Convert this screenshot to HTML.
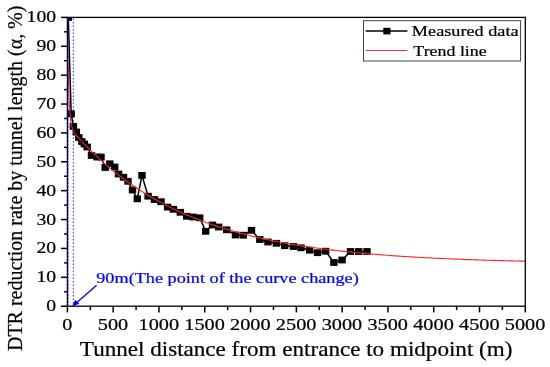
<!DOCTYPE html>
<html><head><meta charset="utf-8"><title>DTR reduction chart</title>
<style>
html,body{margin:0;padding:0;background:#fff;}
svg{display:block;}
text{font-family:'Liberation Serif','Times New Roman',serif;stroke-width:0.22px;paint-order:normal;}
</style></head><body>
<svg width="550" height="367" viewBox="0 0 550 367">
<rect width="550" height="367" fill="#fff"/>
<defs><clipPath id="pa"><rect x="67.4" y="17.4" width="457.9" height="288.8"/></clipPath></defs>
<line x1="73.3" y1="18.4" x2="73.3" y2="305.2" stroke="#33f" stroke-width="1" stroke-dasharray="1.7 1.8"/>
<g clip-path="url(#pa)">
<polyline points="68.3,17.4 71.2,113.8 73.4,126.4 76.3,132 78.8,137.5 81.8,141.5 84.3,144 87.2,147 91.5,155.5 97,157 101,157 105.2,167.5 109.8,163.8 114.7,167 118.5,174 123.5,177.3 128,181.3 132.5,190 137.3,198.8 142,175.4 148.1,196.2 154.5,199.5 161,201.7 167.6,207.1 173.4,209.3 180.3,212.3 186.7,216.3 193,217 199.7,217.8 205.7,231.3 212.5,225 218.7,227 226.7,229.8 235.5,235 243.3,235.2 251.5,230.3 259.8,239.5 268,242 276.4,243.3 284.7,245.7 293.5,246.5 301,247.8 309.7,250.2 317.6,252.7 325.6,251.2 333.9,262.5 342.1,260 350.5,251.5 358.7,251.5 367,251.5" fill="none" stroke="#000" stroke-width="1.5" stroke-linejoin="round"/>
<g fill="#000">
<rect x="64.60" y="14.00" width="7.4" height="6.8"/>
<rect x="67.50" y="110.40" width="7.4" height="6.8"/>
<rect x="69.70" y="123.00" width="7.4" height="6.8"/>
<rect x="72.60" y="128.60" width="7.4" height="6.8"/>
<rect x="75.10" y="134.10" width="7.4" height="6.8"/>
<rect x="78.10" y="138.10" width="7.4" height="6.8"/>
<rect x="80.60" y="140.60" width="7.4" height="6.8"/>
<rect x="83.50" y="143.60" width="7.4" height="6.8"/>
<rect x="87.80" y="152.10" width="7.4" height="6.8"/>
<rect x="93.30" y="153.60" width="7.4" height="6.8"/>
<rect x="97.30" y="153.60" width="7.4" height="6.8"/>
<rect x="101.50" y="164.10" width="7.4" height="6.8"/>
<rect x="106.10" y="160.40" width="7.4" height="6.8"/>
<rect x="111.00" y="163.60" width="7.4" height="6.8"/>
<rect x="114.80" y="170.60" width="7.4" height="6.8"/>
<rect x="119.80" y="173.90" width="7.4" height="6.8"/>
<rect x="124.30" y="177.90" width="7.4" height="6.8"/>
<rect x="128.80" y="186.60" width="7.4" height="6.8"/>
<rect x="133.60" y="195.40" width="7.4" height="6.8"/>
<rect x="138.30" y="172.00" width="7.4" height="6.8"/>
<rect x="144.40" y="192.80" width="7.4" height="6.8"/>
<rect x="150.80" y="196.10" width="7.4" height="6.8"/>
<rect x="157.30" y="198.30" width="7.4" height="6.8"/>
<rect x="163.90" y="203.70" width="7.4" height="6.8"/>
<rect x="169.70" y="205.90" width="7.4" height="6.8"/>
<rect x="176.60" y="208.90" width="7.4" height="6.8"/>
<rect x="183.00" y="212.90" width="7.4" height="6.8"/>
<rect x="189.30" y="213.60" width="7.4" height="6.8"/>
<rect x="196.00" y="214.40" width="7.4" height="6.8"/>
<rect x="202.00" y="227.90" width="7.4" height="6.8"/>
<rect x="208.80" y="221.60" width="7.4" height="6.8"/>
<rect x="215.00" y="223.60" width="7.4" height="6.8"/>
<rect x="223.00" y="226.40" width="7.4" height="6.8"/>
<rect x="231.80" y="231.60" width="7.4" height="6.8"/>
<rect x="239.60" y="231.80" width="7.4" height="6.8"/>
<rect x="247.80" y="226.90" width="7.4" height="6.8"/>
<rect x="256.10" y="236.10" width="7.4" height="6.8"/>
<rect x="264.30" y="238.60" width="7.4" height="6.8"/>
<rect x="272.70" y="239.90" width="7.4" height="6.8"/>
<rect x="281.00" y="242.30" width="7.4" height="6.8"/>
<rect x="289.80" y="243.10" width="7.4" height="6.8"/>
<rect x="297.30" y="244.40" width="7.4" height="6.8"/>
<rect x="306.00" y="246.80" width="7.4" height="6.8"/>
<rect x="313.90" y="249.30" width="7.4" height="6.8"/>
<rect x="321.90" y="247.80" width="7.4" height="6.8"/>
<rect x="330.20" y="259.10" width="7.4" height="6.8"/>
<rect x="338.40" y="256.60" width="7.4" height="6.8"/>
<rect x="346.80" y="248.10" width="7.4" height="6.8"/>
<rect x="355.00" y="248.10" width="7.4" height="6.8"/>
<rect x="363.30" y="248.10" width="7.4" height="6.8"/>
</g>
<polyline points="67.40,18.27 67.58,32.17 67.77,44.32 67.95,54.94 68.13,64.23 68.32,72.36 68.50,79.47 68.68,85.71 68.87,91.17 69.05,95.96 69.23,100.17 69.41,103.86 69.60,107.11 69.78,109.97 69.96,112.49 70.15,114.72 70.33,116.69 70.51,118.43 70.70,119.98 70.88,121.36 71.06,122.59 71.25,123.68 71.43,124.67 71.61,125.56 71.80,126.35 71.98,127.08 72.16,127.74 72.35,128.34 72.53,128.89 72.71,129.40 72.89,129.87 73.08,130.30 73.26,130.71 73.44,131.09 73.63,131.45 73.81,131.79 73.99,132.11 74.18,132.42 74.36,132.71 74.54,133.00 74.73,133.27 74.91,133.54 75.09,133.79 75.28,134.04 75.46,134.29 75.64,134.53 75.83,134.76 76.01,134.99 76.19,135.22 76.37,135.45 76.56,135.67 76.74,135.89 76.92,136.10 77.11,136.32 77.29,136.53 77.47,136.74 77.66,136.95 77.84,137.16 78.02,137.37 78.21,137.58 78.39,137.78 78.57,137.99 78.76,138.19 78.94,138.40 79.12,138.60 79.31,138.80 79.49,139.00 79.67,139.20 79.85,139.40 80.04,139.60 80.22,139.80 80.40,140.00 80.59,140.20 80.77,140.40 80.95,140.60 81.14,140.79 81.32,140.99 81.50,141.19 81.69,141.38 81.87,141.58 82.05,141.78 82.24,141.97 82.42,142.17 82.60,142.36 82.79,142.55 82.97,142.75 83.15,142.94 83.33,143.14 83.52,143.33 83.70,143.52 83.88,143.71 84.07,143.91 84.25,144.10 84.43,144.29 84.62,144.48 84.80,144.67 84.98,144.86 85.17,145.05 85.35,145.24 85.53,145.43 85.72,145.62 87.55,147.49 89.38,149.34 91.21,151.16 93.04,152.94 94.87,154.70 96.71,156.43 98.54,158.14 100.37,159.81 102.20,161.46 104.03,163.08 105.86,164.68 107.70,166.25 109.53,167.80 111.36,169.33 113.19,170.82 115.02,172.30 116.85,173.75 118.68,175.18 120.52,176.58 122.35,177.97 124.18,179.33 126.01,180.67 127.84,181.99 129.67,183.29 131.51,184.56 133.34,185.82 135.17,187.06 137.00,188.27 138.83,189.47 140.66,190.65 142.50,191.81 144.33,192.95 146.16,194.08 147.99,195.18 149.82,196.27 151.65,197.34 153.49,198.40 155.32,199.43 157.15,200.45 158.98,201.46 160.81,202.45 162.64,203.42 164.47,204.38 166.31,205.32 168.14,206.25 169.97,207.16 171.80,208.06 173.63,208.94 175.46,209.81 177.30,210.67 179.13,211.51 180.96,212.34 182.79,213.16 184.62,213.96 186.45,214.75 188.29,215.53 190.12,216.29 191.95,217.05 193.78,217.79 195.61,218.52 197.44,219.23 199.28,219.94 201.11,220.64 202.94,221.32 204.77,221.99 206.60,222.66 208.43,223.31 210.26,223.95 212.10,224.58 213.93,225.20 215.76,225.82 217.59,226.42 219.42,227.01 221.25,227.59 223.09,228.17 224.92,228.73 226.75,229.29 228.58,229.83 230.41,230.37 232.24,230.90 234.08,231.42 235.91,231.94 237.74,232.44 239.57,232.94 241.40,233.43 243.23,233.91 245.07,234.38 246.90,234.85 248.73,235.31 250.56,235.76 252.39,236.20 254.22,236.64 256.05,237.07 257.89,237.49 259.72,237.91 261.55,238.32 263.38,238.72 265.21,239.12 267.04,239.51 268.88,239.90 270.71,240.28 272.54,240.65 274.37,241.01 276.20,241.38 278.03,241.73 279.87,242.08 281.70,242.42 283.53,242.76 285.36,243.10 287.19,243.42 289.02,243.75 290.86,244.06 292.69,244.38 294.52,244.68 296.35,244.99 298.18,245.28 300.01,245.58 301.84,245.86 303.68,246.15 305.51,246.43 307.34,246.70 309.17,246.97 311.00,247.24 312.83,247.50 314.67,247.76 316.50,248.01 318.33,248.26 320.16,248.51 321.99,248.75 323.82,248.99 325.66,249.22 327.49,249.45 329.32,249.68 331.15,249.90 332.98,250.12 334.81,250.34 336.65,250.55 338.48,250.76 340.31,250.97 342.14,251.17 343.97,251.37 345.80,251.57 347.63,251.76 349.47,251.95 351.30,252.14 353.13,252.32 354.96,252.50 356.79,252.68 358.62,252.86 360.46,253.03 362.29,253.20 364.12,253.37 365.95,253.53 367.78,253.69 369.61,253.85 371.45,254.01 373.28,254.17 375.11,254.32 376.94,254.47 378.77,254.61 380.60,254.76 382.44,254.90 384.27,255.04 386.10,255.18 387.93,255.32 389.76,255.45 391.59,255.58 393.42,255.71 395.26,255.84 397.09,255.96 398.92,256.09 400.75,256.21 402.58,256.33 404.41,256.45 406.25,256.56 408.08,256.68 409.91,256.79 411.74,256.90 413.57,257.01 415.40,257.12 417.24,257.22 419.07,257.32 420.90,257.43 422.73,257.53 424.56,257.63 426.39,257.72 428.23,257.82 430.06,257.91 431.89,258.00 433.72,258.10 435.55,258.19 437.38,258.27 439.21,258.36 441.05,258.45 442.88,258.53 444.71,258.61 446.54,258.69 448.37,258.77 450.20,258.85 452.04,258.93 453.87,259.01 455.70,259.08 457.53,259.16 459.36,259.23 461.19,259.30 463.03,259.37 464.86,259.44 466.69,259.51 468.52,259.58 470.35,259.64 472.18,259.71 474.02,259.77 475.85,259.84 477.68,259.90 479.51,259.96 481.34,260.02 483.17,260.08 485.00,260.14 486.84,260.19 488.67,260.25 490.50,260.31 492.33,260.36 494.16,260.41 495.99,260.47 497.83,260.52 499.66,260.57 501.49,260.62 503.32,260.67 505.15,260.72 506.98,260.77 508.82,260.81 510.65,260.86 512.48,260.91 514.31,260.95 516.14,261.00 517.97,261.04 519.81,261.08 521.64,261.12 523.47,261.17 525.30,261.21" fill="none" stroke="#f22" stroke-width="1.1"/>
</g>
<g stroke="#000" stroke-width="1.5">
<line x1="61.00" y1="306.20" x2="67.40" y2="306.20"/>
<line x1="64.10" y1="291.76" x2="67.40" y2="291.76"/>
<line x1="61.00" y1="277.32" x2="67.40" y2="277.32"/>
<line x1="64.10" y1="262.88" x2="67.40" y2="262.88"/>
<line x1="61.00" y1="248.44" x2="67.40" y2="248.44"/>
<line x1="64.10" y1="234.00" x2="67.40" y2="234.00"/>
<line x1="61.00" y1="219.56" x2="67.40" y2="219.56"/>
<line x1="64.10" y1="205.12" x2="67.40" y2="205.12"/>
<line x1="61.00" y1="190.68" x2="67.40" y2="190.68"/>
<line x1="64.10" y1="176.24" x2="67.40" y2="176.24"/>
<line x1="61.00" y1="161.80" x2="67.40" y2="161.80"/>
<line x1="64.10" y1="147.36" x2="67.40" y2="147.36"/>
<line x1="61.00" y1="132.92" x2="67.40" y2="132.92"/>
<line x1="64.10" y1="118.48" x2="67.40" y2="118.48"/>
<line x1="61.00" y1="104.04" x2="67.40" y2="104.04"/>
<line x1="64.10" y1="89.60" x2="67.40" y2="89.60"/>
<line x1="61.00" y1="75.16" x2="67.40" y2="75.16"/>
<line x1="64.10" y1="60.72" x2="67.40" y2="60.72"/>
<line x1="61.00" y1="46.28" x2="67.40" y2="46.28"/>
<line x1="64.10" y1="31.84" x2="67.40" y2="31.84"/>
<line x1="61.00" y1="17.40" x2="67.40" y2="17.40"/>
<line x1="67.40" y1="306.20" x2="67.40" y2="312.40"/>
<line x1="90.30" y1="306.20" x2="90.30" y2="310.10"/>
<line x1="113.19" y1="306.20" x2="113.19" y2="312.40"/>
<line x1="136.09" y1="306.20" x2="136.09" y2="310.10"/>
<line x1="158.98" y1="306.20" x2="158.98" y2="312.40"/>
<line x1="181.88" y1="306.20" x2="181.88" y2="310.10"/>
<line x1="204.77" y1="306.20" x2="204.77" y2="312.40"/>
<line x1="227.66" y1="306.20" x2="227.66" y2="310.10"/>
<line x1="250.56" y1="306.20" x2="250.56" y2="312.40"/>
<line x1="273.46" y1="306.20" x2="273.46" y2="310.10"/>
<line x1="296.35" y1="306.20" x2="296.35" y2="312.40"/>
<line x1="319.25" y1="306.20" x2="319.25" y2="310.10"/>
<line x1="342.14" y1="306.20" x2="342.14" y2="312.40"/>
<line x1="365.03" y1="306.20" x2="365.03" y2="310.10"/>
<line x1="387.93" y1="306.20" x2="387.93" y2="312.40"/>
<line x1="410.83" y1="306.20" x2="410.83" y2="310.10"/>
<line x1="433.72" y1="306.20" x2="433.72" y2="312.40"/>
<line x1="456.62" y1="306.20" x2="456.62" y2="310.10"/>
<line x1="479.51" y1="306.20" x2="479.51" y2="312.40"/>
<line x1="502.40" y1="306.20" x2="502.40" y2="310.10"/>
<line x1="525.30" y1="306.20" x2="525.30" y2="312.40"/>
</g>
<rect x="67.4" y="17.4" width="457.9" height="288.8" fill="none" stroke="#000" stroke-width="1.3"/>
<line x1="68.0" y1="17.4" x2="68.0" y2="306.2" stroke="#00f" stroke-width="1.0" stroke-dasharray="2.2 1.3"/>
<line x1="96.6" y1="285.3" x2="76" y2="303.3" stroke="#00f" stroke-width="1.3"/>
<polygon points="72.1,306.5 75.2,299.8 79.4,303.8" fill="#00f"/>
<g>
<rect x="363.5" y="20.7" width="157.1" height="40.3" fill="#fff" stroke="#444" stroke-width="1"/>
<line x1="365.6" y1="31" x2="407.4" y2="31" stroke="#000" stroke-width="1.5"/>
<rect x="383.3" y="27.8" width="7.2" height="6.6" fill="#000"/>
<line x1="365.6" y1="50.5" x2="407.4" y2="50.5" stroke="#f33" stroke-width="1"/>
</g>
<text transform="translate(46.33,311.24) scale(1.1400,1)" font-size="17.3" fill="#000" stroke="#000">0</text>
<text transform="translate(36.47,282.36) scale(1.1400,1)" font-size="17.3" fill="#000" stroke="#000">10</text>
<text transform="translate(36.47,253.48) scale(1.1400,1)" font-size="17.3" fill="#000" stroke="#000">20</text>
<text transform="translate(36.47,224.60) scale(1.1400,1)" font-size="17.3" fill="#000" stroke="#000">30</text>
<text transform="translate(36.47,195.72) scale(1.1400,1)" font-size="17.3" fill="#000" stroke="#000">40</text>
<text transform="translate(36.47,166.84) scale(1.1400,1)" font-size="17.3" fill="#000" stroke="#000">50</text>
<text transform="translate(36.47,137.96) scale(1.1400,1)" font-size="17.3" fill="#000" stroke="#000">60</text>
<text transform="translate(36.47,109.08) scale(1.1400,1)" font-size="17.3" fill="#000" stroke="#000">70</text>
<text transform="translate(36.47,80.20) scale(1.1400,1)" font-size="17.3" fill="#000" stroke="#000">80</text>
<text transform="translate(36.47,51.32) scale(1.1400,1)" font-size="17.3" fill="#000" stroke="#000">90</text>
<text transform="translate(26.61,22.44) scale(1.1400,1)" font-size="17.3" fill="#000" stroke="#000">100</text>
<text transform="translate(62.33,329.80) scale(1.2000,1)" font-size="16.9" fill="#000" stroke="#000">0</text>
<text transform="translate(97.78,329.80) scale(1.2000,1)" font-size="16.9" fill="#000" stroke="#000">500</text>
<text transform="translate(138.50,329.80) scale(1.2000,1)" font-size="16.9" fill="#000" stroke="#000">1000</text>
<text transform="translate(184.29,329.80) scale(1.2000,1)" font-size="16.9" fill="#000" stroke="#000">1500</text>
<text transform="translate(230.08,329.80) scale(1.2000,1)" font-size="16.9" fill="#000" stroke="#000">2000</text>
<text transform="translate(275.87,329.80) scale(1.2000,1)" font-size="16.9" fill="#000" stroke="#000">2500</text>
<text transform="translate(321.66,329.80) scale(1.2000,1)" font-size="16.9" fill="#000" stroke="#000">3000</text>
<text transform="translate(367.45,329.80) scale(1.2000,1)" font-size="16.9" fill="#000" stroke="#000">3500</text>
<text transform="translate(413.24,329.80) scale(1.2000,1)" font-size="16.9" fill="#000" stroke="#000">4000</text>
<text transform="translate(459.03,329.80) scale(1.2000,1)" font-size="16.9" fill="#000" stroke="#000">4500</text>
<text transform="translate(504.82,329.80) scale(1.2000,1)" font-size="16.9" fill="#000" stroke="#000">5000</text>
<text transform="translate(79.84,356.10) scale(1.1211,1)" font-size="20.6" fill="#000" stroke="#000" >Tunnel distance from entrance to midpoint (m)</text>
<text transform="translate(22.4,351.00) rotate(-90) scale(0.9656,1)" font-size="20.7" fill="#000" stroke="#000">DTR reduction rate by tunnel length (α, %)</text>
<text transform="translate(96.25,282.60) scale(1.2275,1)" font-size="14.85" fill="#0000ff" stroke="#0000ff" >90m(The point of the curve change)</text>
<text transform="translate(411.85,36.40) scale(1.1915,1)" font-size="15.3" fill="#000" stroke="#000" >Measured data</text>
<text transform="translate(413.34,55.60) scale(1.1934,1)" font-size="15.0" fill="#000" stroke="#000" >Trend line</text>
</svg>
</body></html>
